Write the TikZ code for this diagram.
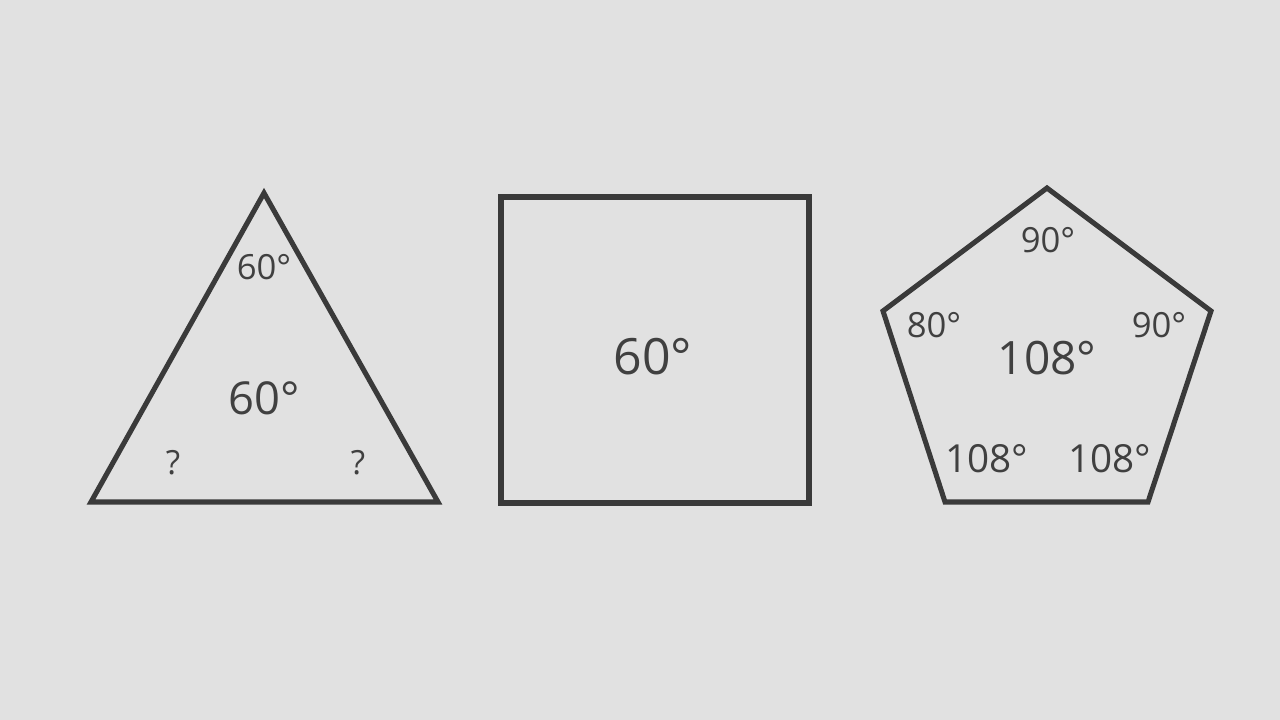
\documentclass[tikz,border=0pt]{standalone}
\usepackage{fontspec}
\setmainfont{Open Sans}
\definecolor{bg}{HTML}{E1E1E1}
\definecolor{ink}{HTML}{3A3A3A}
\definecolor{txt}{HTML}{404040}
\tikzset{
  shape line/.style={draw=ink, line width=3.8pt, line join=miter},
  lbl/.style={text=txt, inner sep=0pt, anchor=center},
}
\newcommand{\fs}[1]{\fontsize{#1}{#1}\selectfont}
\begin{document}
\begin{tikzpicture}[x=0.75pt, y=-0.75pt]
\fill[bg] (0,0) rectangle (1280,720);
\useasboundingbox (0,0) rectangle (1280,720);
% triangle
\coordinate (tA) at (264,193);
\coordinate (tB) at (438,502);
\coordinate (tC) at (91,502);
\draw[shape line] (tA) -- (tB) -- (tC) -- cycle;
\node[lbl] (t1) at (264,267) {\fs{26pt}60°};
\node[lbl] (t2) at (264,398) {\fs{34pt}60°};
\node[lbl] (t3) at (173,463) {\fs{25pt}?};
\node[lbl] (t4) at (358,463) {\fs{25pt}?};
% square
\coordinate (s1) at (501,197);
\coordinate (s2) at (809,503);
\draw[shape line] (s1) rectangle (s2);
\node[lbl] (sq) at (653,357) {\fs{37.5pt}60°};
% pentagon
\coordinate (p1) at (1047,188);
\coordinate (p2) at (1211,311);
\coordinate (p3) at (1148,502);
\coordinate (p4) at (945,502);
\coordinate (p5) at (883,311);
\draw[shape line] (p1) -- (p2) -- (p3) -- (p4) -- (p5) -- cycle;
\node[lbl] (q1) at (1048,240) {\fs{26pt}90°};
\node[lbl] (q2) at (934,325) {\fs{26pt}80°};
\node[lbl] (q3) at (1159,325) {\fs{26pt}90°};
\node[lbl] (q4) at (1047,358) {\fs{34.5pt}108°};
\node[lbl] (q5) at (987,459) {\fs{29pt}108°};
\node[lbl] (q6) at (1110,459) {\fs{29pt}108°};
\end{tikzpicture}
\end{document}
